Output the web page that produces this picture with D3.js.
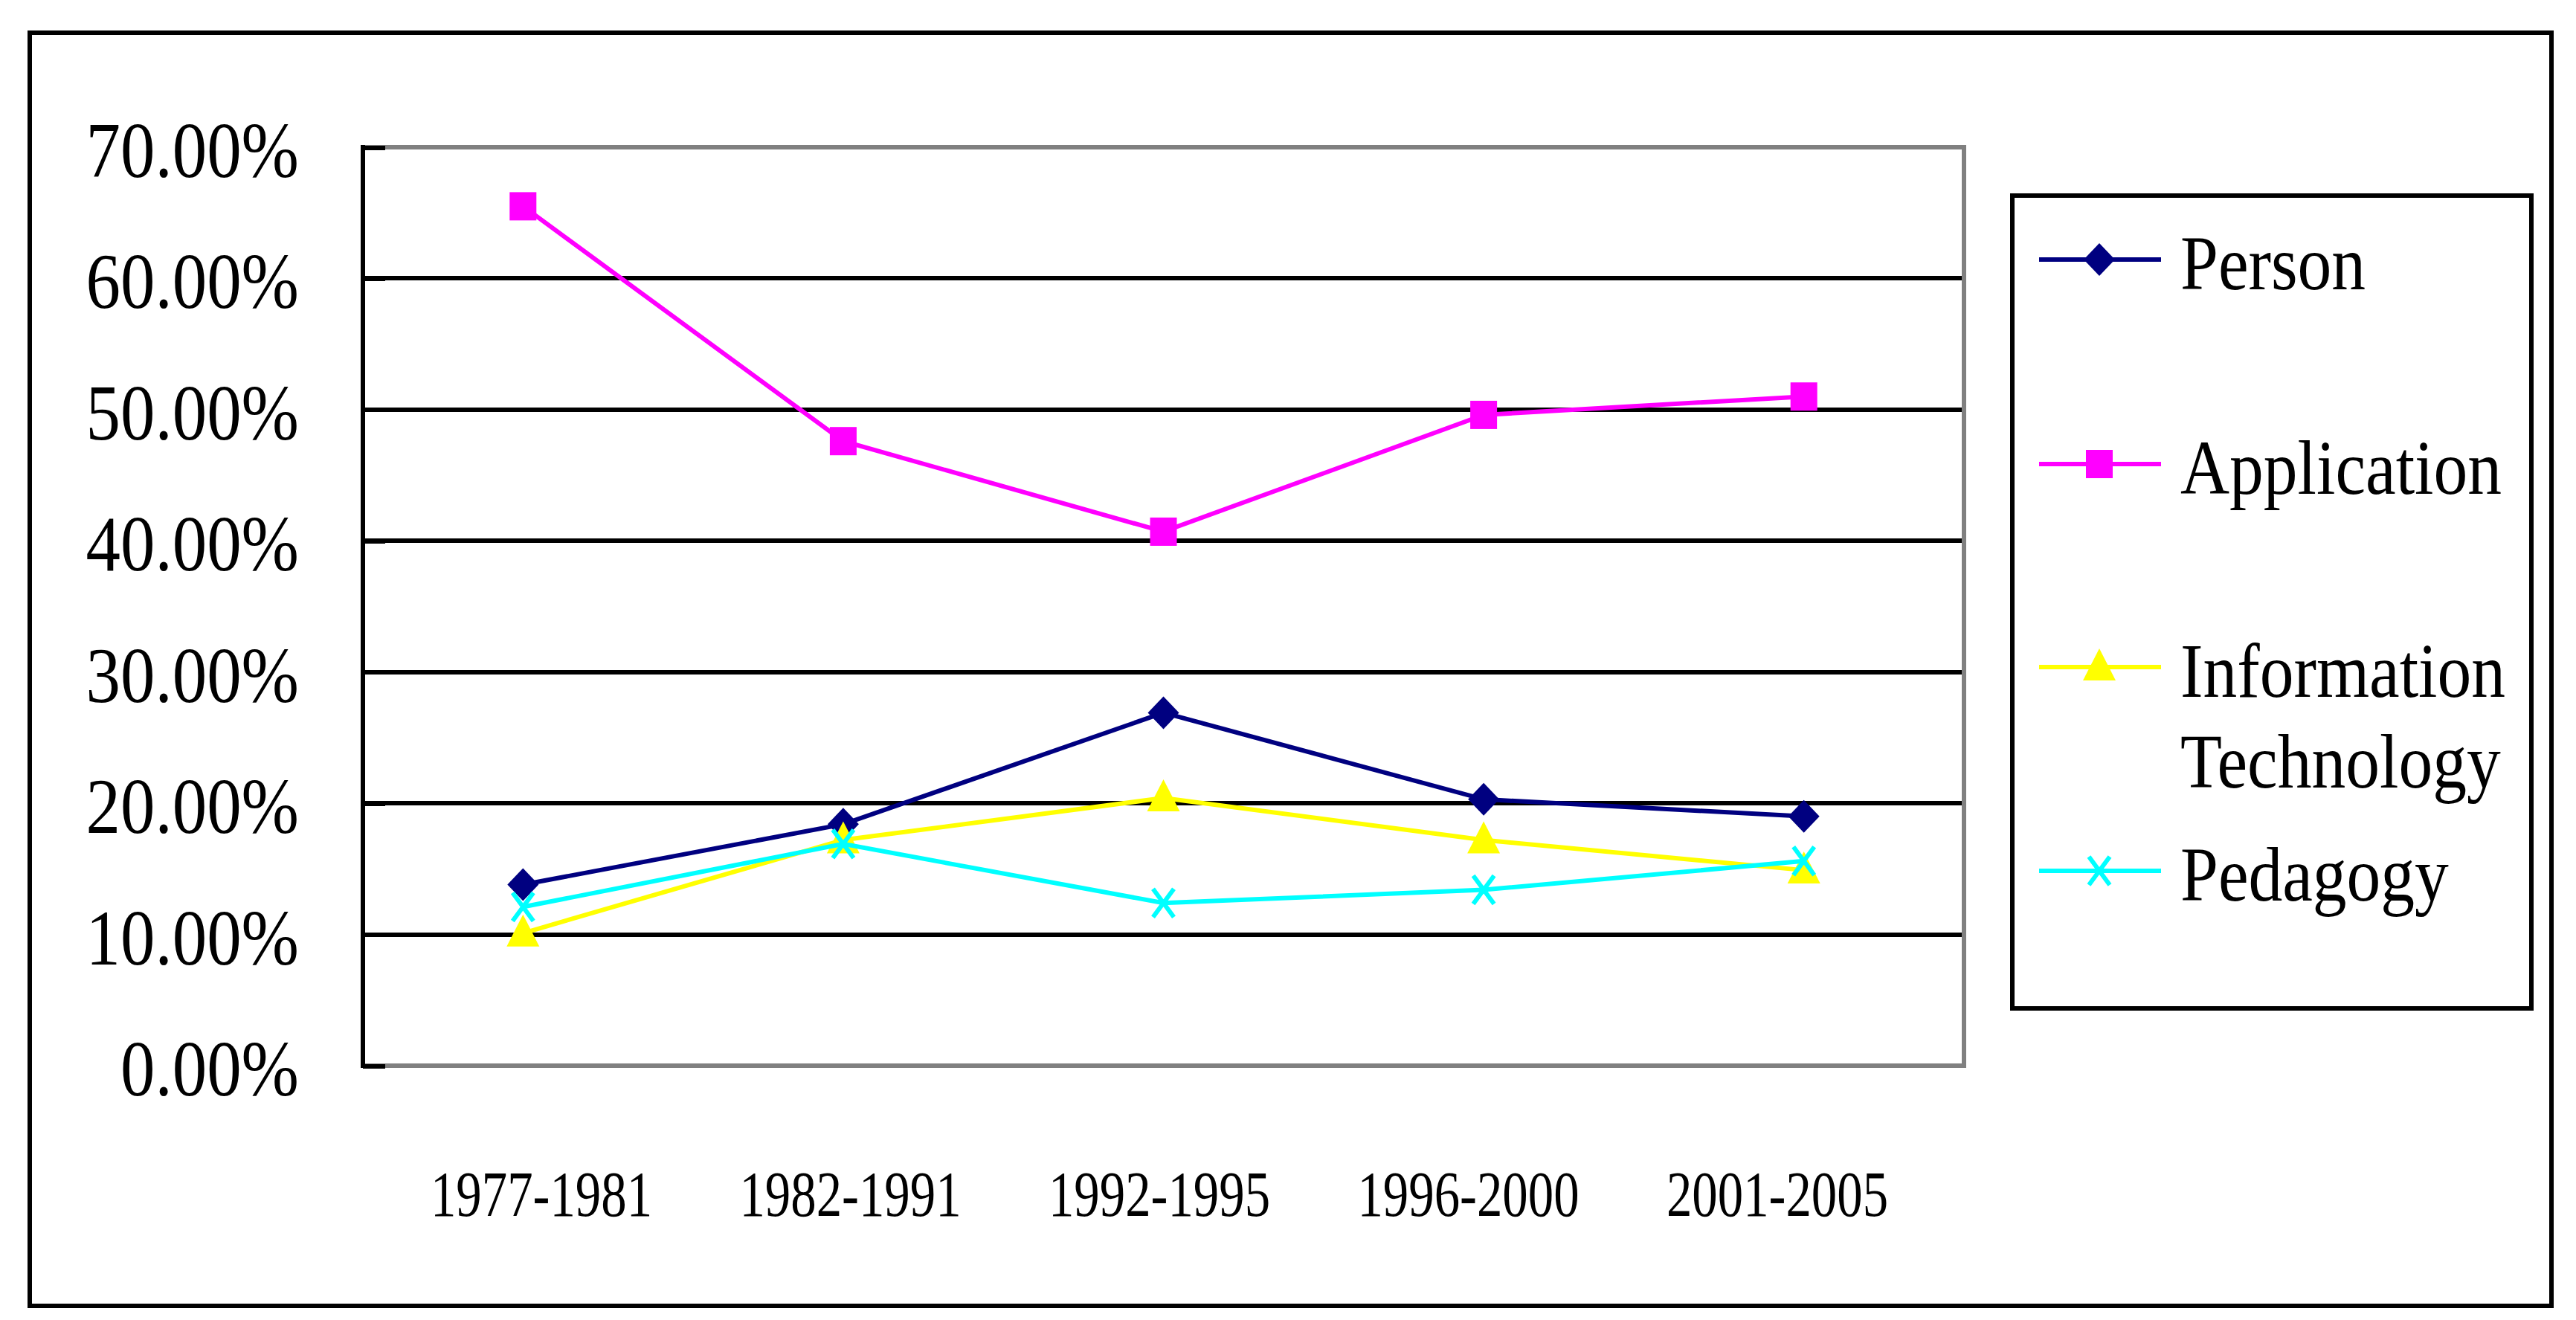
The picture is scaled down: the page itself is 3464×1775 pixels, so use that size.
<!DOCTYPE html>
<html>
<head>
<meta charset="utf-8">
<script src="https://cdn.jsdelivr.net/npm/d3@7"></script>
<style>
  body { margin: 0; background: #fff; }
  svg { display: block; }
  text { font-family: "Liberation Serif", "Times New Roman", serif; fill: #000; }
</style>
</head>
<body>
<svg id="chart" width="3464" height="1775"></svg>
<script>
// chart data
const categories = ["1977-1981", "1982-1991", "1992-1995", "1996-2000", "2001-2005"];
const seriesNames = ["Person", "Application", "Information Technology", "Pedagogy"];
const person      = [0.138, 0.184, 0.269, 0.203, 0.190];
const application = [0.655, 0.476, 0.407, 0.496, 0.510];
const infoTech    = [0.101, 0.172, 0.204, 0.172, 0.149];
const pedagogy    = [0.121, 0.169, 0.124, 0.134, 0.156];
const yTicks      = [0, 0.1, 0.2, 0.3, 0.4, 0.5, 0.6, 0.7];

const seriesValues = [person, application, infoTech, pedagogy];
const seriesColors = ["#000080", "#ff00ff", "#ffff00", "#00ffff"];
const seriesMarkers = ["diamond", "square", "triangle", "cross"];

const svg = d3.select("#chart");

// outer chart frame
svg.append("rect")
  .attr("x", 40).attr("y", 44)
  .attr("width", 3391).attr("height", 1712)
  .attr("fill", "#fff").attr("stroke", "#000").attr("stroke-width", 6)
  .attr("shape-rendering", "crispEdges");

// plot area
const plot = {left: 488, right: 2641, top: 198, bottom: 1433};

const x = d3.scalePoint()
  .domain(categories)
  .range([plot.left, plot.right])
  .padding(0.5);

// labels sit a little tighter than the points in the original
const xLabel = d3.scalePoint()
  .domain(categories)
  .range([728, 2390]);

const y = d3.scaleLinear()
  .domain([0, 0.7])
  .range([plot.bottom, plot.top]);

// gridlines
svg.append("g")
  .attr("shape-rendering", "crispEdges")
  .selectAll("line")
  .data(yTicks.filter(d => d > 0 && d < 0.7))
  .join("line")
  .attr("x1", plot.left).attr("x2", plot.right)
  .attr("y1", d => y(d)).attr("y2", d => y(d))
  .attr("stroke", "#000").attr("stroke-width", 6);

// gray plot border (top, right, bottom)
svg.append("path")
  .attr("d", `M${plot.left},${plot.top}H${plot.right}V${plot.bottom}H${plot.left}`)
  .attr("fill", "none").attr("stroke", "#808080").attr("stroke-width", 6)
  .attr("shape-rendering", "crispEdges");

// y axis with inside ticks
const yAxis = d3.axisRight(y)
  .tickValues(yTicks)
  .tickSize(30)
  .tickFormat("");
const yAxisG = svg.append("g")
  .attr("transform", `translate(${plot.left},0)`)
  .attr("shape-rendering", "crispEdges")
  .call(yAxis);
yAxisG.select(".domain").remove();
yAxisG.selectAll(".tick line").attr("stroke", "#000").attr("stroke-width", 6);
svg.append("line")
  .attr("x1", plot.left).attr("x2", plot.left)
  .attr("y1", plot.top - 3).attr("y2", plot.bottom + 3)
  .attr("stroke", "#000").attr("stroke-width", 6)
  .attr("shape-rendering", "crispEdges");

// y tick labels
svg.append("g")
  .selectAll("text")
  .data(yTicks)
  .join("text")
  .attr("text-anchor", "end")
  .attr("font-size", 105)
  .attr("transform", d => `translate(402,${y(d) + 40}) scale(0.885,1)`)
  .text(d => d3.format(".2%")(d));

// x tick labels
svg.append("g")
  .selectAll("text")
  .data(categories)
  .join("text")
  .attr("text-anchor", "middle")
  .attr("font-size", 86)
  .attr("transform", d => `translate(${xLabel(d)},1635) scale(0.8,1)`)
  .text(d => d);

// marker drawing
function drawMarker(g, type, color) {
  if (type === "diamond") {
    g.append("path").attr("d", "M0,-22L21,0L0,22L-21,0Z").attr("fill", color);
  } else if (type === "square") {
    g.append("rect").attr("x", -18).attr("y", -19).attr("width", 36).attr("height", 38).attr("fill", color);
  } else if (type === "triangle") {
    g.append("path").attr("d", "M0,-25L22,18L-22,18Z").attr("fill", color);
  } else {
    g.append("path").attr("d", "M-14,-19L14,19M14,-19L-14,19")
      .attr("stroke", color).attr("stroke-width", 6).attr("fill", "none");
  }
}

const line = d3.line()
  .x((d, i) => x(categories[i]))
  .y(d => y(d));

seriesValues.forEach((vals, s) => {
  const g = svg.append("g");
  g.append("path")
    .attr("d", line(vals))
    .attr("fill", "none")
    .attr("stroke", seriesColors[s])
    .attr("stroke-width", 6);
  vals.forEach((v, i) => {
    const m = g.append("g").attr("transform", `translate(${x(categories[i])},${y(v)})`);
    drawMarker(m, seriesMarkers[s], seriesColors[s]);
  });
});

// legend
svg.append("rect")
  .attr("x", 2706).attr("y", 263)
  .attr("width", 698).attr("height", 1093)
  .attr("fill", "#fff").attr("stroke", "#000").attr("stroke-width", 6)
  .attr("shape-rendering", "crispEdges");

const legendRows = [349, 624, 897, 1171];
seriesNames.forEach((name, s) => {
  const ly = legendRows[s];
  svg.append("line")
    .attr("x1", 2742).attr("x2", 2906)
    .attr("y1", ly).attr("y2", ly)
    .attr("stroke", seriesColors[s]).attr("stroke-width", 6);
  const m = svg.append("g").attr("transform", `translate(2823,${ly})`);
  drawMarker(m, seriesMarkers[s], seriesColors[s]);
  const words = name === "Information Technology" ? ["Information", "Technology"] : [name];
  words.forEach((w, k) => {
    svg.append("text")
      .attr("font-size", 104)
      .attr("transform", `translate(2932,${ly + 40 + k * 122}) scale(0.88,1)`)
      .text(w);
  });
});
</script>
</body>
</html>
